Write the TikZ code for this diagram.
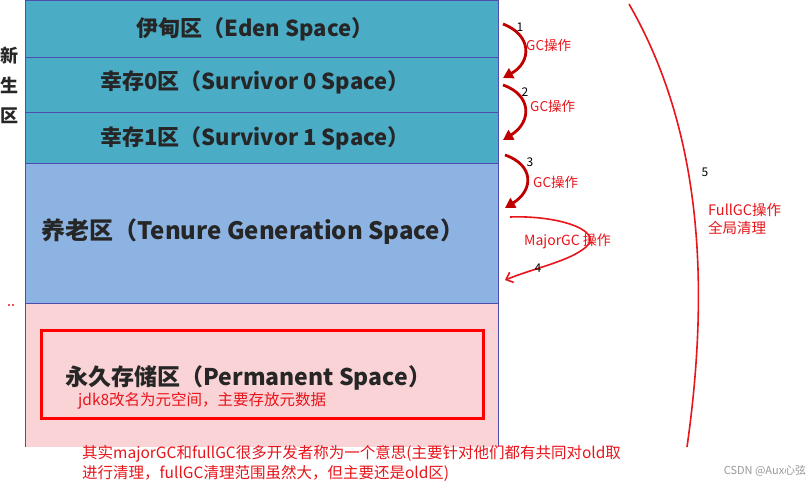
\documentclass[tikz,border=0pt]{standalone}
\usepackage{fontspec}
\setmainfont{Noto Sans CJK SC}
\usetikzlibrary{arrows.meta}
\definecolor{teal1}{HTML}{4BACC6}
\definecolor{blue1}{HTML}{8DB3E2}
\definecolor{pink1}{HTML}{F9D3D6}
\definecolor{red1}{HTML}{E8151B}
\definecolor{dred}{HTML}{C00000}
\tikzset{
 region/.style={draw=blue!40!gray, line width=0.8pt},
 btxt/.style={font=\bfseries\fontsize{22}{24}\selectfont, text=black!85},
 rtxt/.style={font=\fontsize{15.5}{20}\selectfont, text=red1, inner sep=0pt},
 ntxt/.style={font=\fontsize{12}{14}\selectfont, inner sep=0pt},
 gcarrow/.style={dred, line width=2.8pt, -{Triangle[length=10pt,width=11pt]}},
}
\begin{document}
\begin{tikzpicture}[x=1pt,y=-1pt]
\useasboundingbox (0,0) rectangle (811,488);
\fill[white] (0,0) rectangle (811,488);
\draw[region, fill=teal1] (25,0) rectangle (498,57);
\draw[region, fill=teal1] (25,57) rectangle (498,112);
\draw[region, fill=teal1] (25,112) rectangle (498,163);
\draw[region, fill=blue1] (25,163) rectangle (498,303);
\fill[pink1] (25,303) rectangle (498,447);
\draw[blue!40!gray, line width=0.8pt] (25,303) -- (25,447) (498,303) -- (498,447) (25,303) -- (498,303);
\draw[red, line width=3pt] (41,330) rectangle (483,418);
\node[btxt] (t1) at (255,29) {伊甸区（Eden Space）};
\node[btxt] (t2) at (255,82) {幸存0区（Survivor 0 Space）};
\node[btxt] (t3) at (255,138) {幸存1区（Survivor 1 Space）};
\node[btxt, anchor=west, font=\bfseries\fontsize{24}{26}\selectfont] (t4) at (38,232) {养老区（Tenure Generation Space）};
\node[btxt, anchor=west, font=\bfseries\fontsize{23}{26}\selectfont] (t5) at (62,378) {永久存储区（Permanent Space）};
\node[rtxt, anchor=west] (t6) at (78,401) {jdk8改名为元空间，主要存放元数据};
\node[font=\bfseries\fontsize{18}{20}\selectfont, align=center, text=black!85] (xs) at (10,85) {新\\[10pt]生\\[10pt]区};
\fill[red1] (9,305) circle (1.2) (13,305) circle (1.2);
% GC arrows
\coordinate (a1s) at (503,24); \coordinate (a1e) at (503,78);
\draw[gcarrow] (a1s) .. controls (532,35) and (532,62) .. (a1e);
\coordinate (a2s) at (503,85); \coordinate (a2e) at (503,140);
\draw[gcarrow] (a2s) .. controls (532,95) and (532,122) .. (a2e);
\coordinate (a3s) at (505,155); \coordinate (a3e) at (505,208);
\draw[gcarrow] (a3s) .. controls (534,165) and (534,190) .. (a3e);
\node[ntxt] (n1) at (520,27) {1};
\node[ntxt] (n2) at (525,92) {2};
\node[ntxt] (n3) at (530,162) {3};
\node[rtxt, anchor=west, font=\fontsize{13.5}{16}\selectfont] (g1) at (526,45) {GC操作};
\node[rtxt, anchor=west, font=\fontsize{13.5}{16}\selectfont] (g2) at (530,106) {GC操作};
\node[rtxt, anchor=west, font=\fontsize{13.5}{16}\selectfont] (g3) at (533,182) {GC操作};
% MajorGC
\coordinate (m1) at (510,217); \coordinate (m2) at (505,280);
\draw[red1, line width=1.6pt, -{Straight Barb[length=6pt,width=11pt]}] (m1) .. controls (560,215) and (610,232) .. (582,250) .. controls (565,262) and (535,268) .. (m2);
\node[rtxt, anchor=west, font=\fontsize{14}{16}\selectfont] (mg) at (524,241) {MajorGC 操作};
\node[ntxt] (n4) at (538,268) {4};
% FullGC arc
\coordinate (f1) at (629,4); \coordinate (f2) at (687,447);
\draw[red1, line width=1.6pt] (f1) .. controls (690,110) and (715,250) .. (f2);
\node[ntxt] (n5) at (705,172) {5};
\node[rtxt, anchor=west, align=left, font=\fontsize{14.5}{18}\selectfont] (fg) at (708,219) {FullGC操作\\全局清理};
\node[rtxt, anchor=north west, align=left] (bt) at (82,445) {其实majorGC和fullGC很多开发者称为一个意思(主要针对他们都有共同对old取\\进行清理，fullGC清理范围虽然大，但主要还是old区)};
\node[font=\fontsize{11}{13}\selectfont, text=black!40, inner sep=0] (cs) at (765,471) {CSDN @Aux心弦};
\end{tikzpicture}
\end{document}
